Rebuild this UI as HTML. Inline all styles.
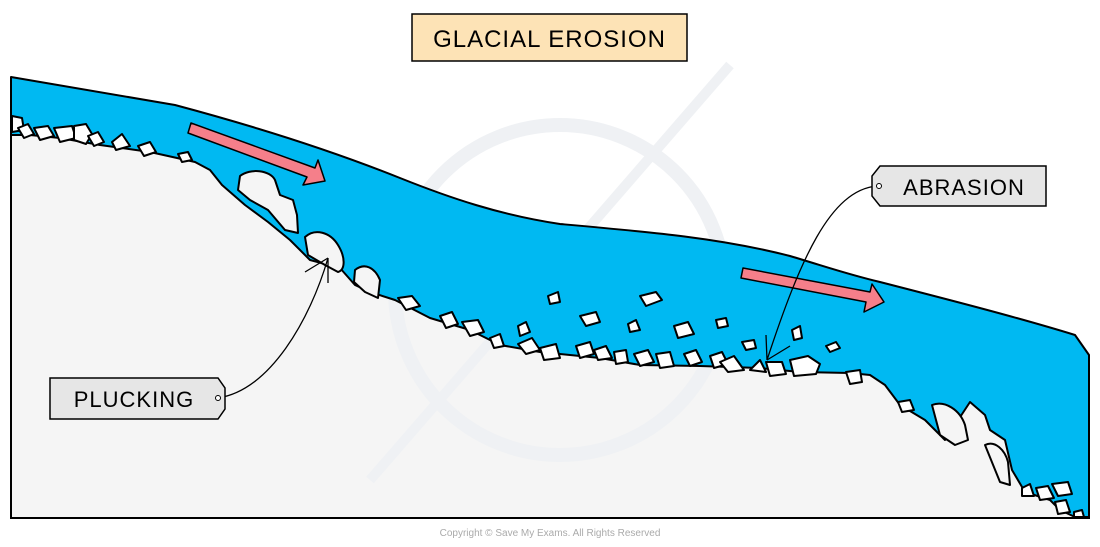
<!DOCTYPE html>
<html><head><meta charset="utf-8"><style>
html,body{margin:0;padding:0;background:#fff;width:1100px;height:547px;overflow:hidden}
svg{display:block}
text{font-family:"Liberation Sans",sans-serif}
</style></head><body>
<svg width="1100" height="547" viewBox="0 0 1100 547" xmlns="http://www.w3.org/2000/svg">
<!-- ground (below glacier only) -->
<path d="M11 77 L175 105 C250 125 330 150 400 178 C450 198 500 215 560 224 C650 232 720 238 790 256 C830 268 850 275 880 282 C950 300 1020 318 1075 335 L1089 355 L1089 518 L11 518 Z" fill="#f5f5f5"/>
<!-- watermark -->
<circle cx="560" cy="290" r="165" fill="none" stroke="#eff1f4" stroke-width="14"/>
<path d="M730 65 L370 480" stroke="#eff1f4" stroke-width="10"/>
<!-- glacier -->
<path d="M11 77 L175 105 C250 125 330 150 400 178 C450 198 500 215 560 224 C650 232 720 238 790 256 C830 268 850 275 880 282 C950 300 1020 318 1075 335 L1089 355 L1089 517 L1075 517 L1060 510 L1050 500 L1025 492 L1012 470 L1005 440 L990 430 L985 415 L970 402 L945 440 L925 420 L900 405 L885 385 L870 375 L850 373 L800 372 L760 368 L700 366 L640 365 L600 358 L540 352 L500 345 L470 330 L430 318 L395 300 L370 292 L355 285 L340 268 L310 260 L290 240 L268 222 L245 205 L222 185 L210 170 L195 162 L150 152 L100 145 L60 138 L30 135 L11 135 Z" fill="#00b9f2" stroke="#000" stroke-width="2" stroke-linejoin="round"/>
<!-- big plucked blocks -->
<g fill="#f5f5f5" stroke="#000" stroke-width="2" stroke-linejoin="round">
<path d="M240 176 C250 168 270 170 275 180 L280 195 L293 200 L297 215 L298 233 L285 230 L268 210 L250 200 L238 190 Z"/>
<path d="M305 237 C315 228 330 232 338 245 C346 258 345 270 338 272 L325 265 L308 255 Z"/>
<path d="M355 270 C365 262 375 268 380 280 L378 298 L365 292 L354 282 Z"/>
<path d="M932 405 C945 400 960 410 965 425 L968 440 L955 445 L940 435 Z"/>
<path d="M985 445 C995 440 1005 450 1008 462 L1010 485 L1000 482 Z"/>
</g>
<!-- rocks -->
<g fill="#fff" stroke="#000" stroke-width="2" stroke-linejoin="round">
<path d="M12 116 L22 118 L24 130 L12 132 Z"/>
<path d="M18 128 L28 124 L34 134 L24 138 Z"/>
<path d="M34 128 L48 126 L54 136 L40 140 Z"/>
<path d="M54 128 L72 126 L76 138 L60 142 Z"/>
<path d="M74 126 L86 124 L92 134 L86 144 L74 140 Z"/>
<path d="M88 136 L98 132 L104 142 L94 146 Z"/>
<path d="M112 142 L122 134 L130 146 L116 150 Z"/>
<path d="M138 146 L150 142 L156 152 L144 156 Z"/>
<path d="M178 154 L188 152 L192 160 L182 162 Z"/>
<path d="M398 298 L412 296 L420 306 L406 310 Z"/>
<path d="M440 316 L452 312 L458 324 L446 328 Z"/>
<path d="M462 322 L478 320 L484 332 L470 336 Z"/>
<path d="M490 338 L500 334 L504 346 L494 348 Z"/>
<path d="M518 344 L532 338 L540 350 L526 354 Z"/>
<path d="M540 348 L556 344 L560 358 L544 360 Z"/>
<path d="M576 346 L590 342 L594 354 L580 358 Z"/>
<path d="M594 350 L606 346 L612 358 L598 360 Z"/>
<path d="M614 352 L626 350 L628 362 L616 364 Z"/>
<path d="M634 354 L648 350 L654 362 L640 366 Z"/>
<path d="M656 354 L670 352 L674 366 L660 368 Z"/>
<path d="M684 354 L696 350 L702 362 L690 366 Z"/>
<path d="M710 356 L722 352 L728 364 L714 368 Z"/>
<path d="M720 362 L734 356 L744 370 L728 372 Z"/>
<path d="M750 370 L760 360 L766 372 Z"/>
<path d="M766 362 L782 362 L786 374 L770 376 Z"/>
<path d="M790 360 L808 356 L820 364 L816 374 L794 376 Z"/>
<path d="M846 372 L860 370 L862 382 L850 384 Z"/>
<path d="M898 402 L910 400 L914 410 L902 412 Z"/>
<path d="M1022 488 L1030 484 L1034 496 L1022 496 Z"/>
<path d="M1036 488 L1048 486 L1054 498 L1040 500 Z"/>
<path d="M1052 484 L1068 482 L1072 494 L1058 496 Z"/>
<path d="M1055 502 L1066 500 L1070 512 L1058 514 Z"/>
<path d="M1074 512 L1082 510 L1084 517 L1074 517 Z"/>
<path d="M548 296 L558 292 L560 302 L550 304 Z"/>
<path d="M580 316 L596 312 L600 322 L586 326 Z"/>
<path d="M640 296 L656 292 L662 300 L646 306 Z"/>
<path d="M518 326 L526 322 L530 332 L520 336 Z"/>
<path d="M628 324 L636 320 L640 330 L630 332 Z"/>
<path d="M674 326 L688 322 L694 334 L678 338 Z"/>
<path d="M716 320 L726 318 L728 326 L718 328 Z"/>
<path d="M742 342 L754 340 L756 348 L746 350 Z"/>
<path d="M792 330 L800 326 L802 338 L794 340 Z"/>
<path d="M826 346 L836 342 L840 348 L830 352 Z"/>
</g>
<!-- frame -->
<path d="M11 77 L11 518 L1089 518 L1089 355" fill="none" stroke="#000" stroke-width="2"/>
<!-- arrows -->
<g fill="#f57f8a" stroke="#000" stroke-width="1.5" stroke-linejoin="round">
<path d="M191 123 L315 168 L318 160 L325 181 L303 185 L307 177 L188 133 Z"/>
<path d="M743 268 L870 292 L872 284 L884 302 L864 312 L866 302 L741 278 Z"/>
</g>
<!-- pointer lines -->
<g fill="none" stroke="#000" stroke-width="1.3">
<path d="M218 398 C270 390 310 320 328 258"/>
<path d="M328 258 L305 272 M328 258 L328 283"/>
<path d="M877 186 C830 190 800 260 767 360"/>
<path d="M767 360 L766 335 M767 360 L790 346"/>
</g>
<!-- labels -->
<rect x="412" y="14" width="275" height="47" fill="#fde3b6" stroke="#000" stroke-width="1.5"/>
<text x="549.5" y="47" text-anchor="middle" font-size="24" letter-spacing="1">GLACIAL EROSION</text>
<path d="M880 166 L1046 166 L1046 206 L880 206 L872 196 L872 176 Z" fill="#e6e6e6" stroke="#000" stroke-width="1.5"/>
<circle cx="879" cy="186" r="2.5" fill="#fff" stroke="#000"/>
<text x="964" y="195" text-anchor="middle" font-size="22" letter-spacing="1">ABRASION</text>
<path d="M50 378 L218 378 L225 388 L225 409 L218 419 L50 419 Z" fill="#e6e6e6" stroke="#000" stroke-width="1.5"/>
<circle cx="218" cy="398" r="2.5" fill="#fff" stroke="#000"/>
<text x="134" y="407" text-anchor="middle" font-size="22" letter-spacing="1">PLUCKING</text>
<text x="550" y="536" text-anchor="middle" font-size="10" fill="#aaa">Copyright © Save My Exams. All Rights Reserved</text>
</svg>
</body></html>
